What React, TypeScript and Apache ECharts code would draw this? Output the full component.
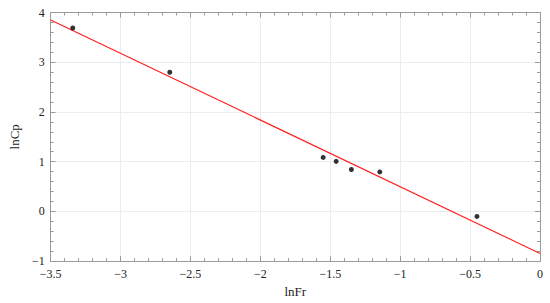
import React, { useEffect, useRef } from "react";
import * as echarts from "echarts";

const lnFr = [-3.342, -2.648, -1.551, -1.458, -1.349, -1.146, -0.451];
const lnCp = [3.688, 2.798, 1.085, 1.006, 0.842, 0.794, -0.101];
const fitX = [-3.5, 0];
const fitY = [3.85, -0.846];

const fmt = (v: number) => (v < 0 ? "\u2212" + String(-v) : String(v));

export default function App() {
  const ref = useRef<HTMLDivElement>(null);
  useEffect(() => {
    const chart = echarts.init(ref.current!, null, { renderer: "svg" });
    const font = "'Liberation Serif', 'DejaVu Serif', serif";
    const axisColor = "#9a9a9a";
    const baseX = {
      type: "value" as const,
      min: -3.5,
      max: 0,
      interval: 0.5,
      axisLine: { show: true, onZero: false, lineStyle: { color: axisColor } },
      axisTick: { show: true, inside: true, length: 5, lineStyle: { color: axisColor } },
      minorTick: { show: true, splitNumber: 5, length: 3, lineStyle: { color: axisColor } },
    };
    const baseY = {
      type: "value" as const,
      min: -1,
      max: 4,
      interval: 1,
      axisLine: { show: true, onZero: false, lineStyle: { color: axisColor } },
      axisTick: { show: true, inside: true, length: 5, lineStyle: { color: axisColor } },
      minorTick: { show: true, splitNumber: 5, length: 3, lineStyle: { color: axisColor } },
    };
    chart.setOption({
      animation: false,
      backgroundColor: "#ffffff",
      grid: { left: 36, right: 10, top: 12.5, bottom: 37.5 },
      xAxis: [
        {
          ...baseX,
          position: "bottom",
          name: "lnFr",
          nameLocation: "middle",
          nameGap: 22,
          nameTextStyle: { fontFamily: font, fontSize: 13, color: "#222" },
          axisLabel: { formatter: fmt, fontFamily: font, fontSize: 12, color: "#222", margin: 7 },
          splitLine: { show: true, lineStyle: { color: "#ececec" } },
        },
        {
          ...baseX,
          position: "top",
          axisLabel: { show: false },
          splitLine: { show: false },
        },
      ],
      yAxis: [
        {
          ...baseY,
          position: "left",
          name: "lnCp",
          nameLocation: "middle",
          nameGap: 19,
          nameTextStyle: { fontFamily: font, fontSize: 13, color: "#222" },
          axisLabel: { formatter: fmt, fontFamily: font, fontSize: 12, color: "#222", margin: 6 },
          splitLine: { show: true, lineStyle: { color: "#ececec" } },
        },
        {
          ...baseY,
          position: "right",
          axisLabel: { show: false },
          splitLine: { show: false },
        },
      ],
      series: [
        {
          type: "line",
          data: fitX.map((x, i) => [x, fitY[i]]),
          showSymbol: false,
          symbol: "none",
          lineStyle: { color: "#ff2020", width: 1.2 },
          z: 2,
        },
        {
          type: "scatter",
          data: lnFr.map((x, i) => [x, lnCp[i]]),
          symbolSize: 5,
          itemStyle: { color: "#000" },
          z: 3,
        },
      ],
    });
    return () => chart.dispose();
  }, []);
  return (
    <div
      ref={ref}
      style={{ position: "fixed", left: 0, top: 0, width: 550, height: 303 }}
    />
  );
}
